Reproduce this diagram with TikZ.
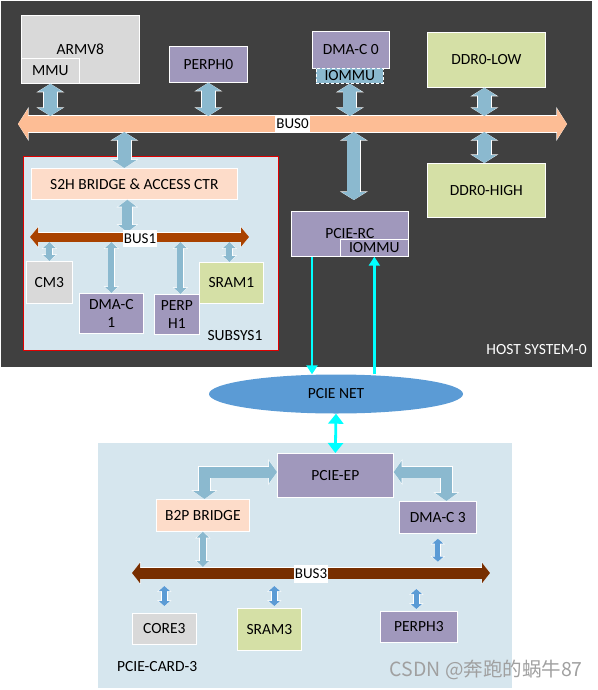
\documentclass[tikz,border=0pt]{standalone}
\usepackage{fontspec}
\setmainfont{Carlito}
\newfontfamily\cjkfont{Noto Sans CJK SC}
\usetikzlibrary{arrows.meta,shapes.geometric}
\definecolor{darkbg}{HTML}{404040}
\definecolor{lgray}{HTML}{D9D9D9}
\definecolor{purp}{HTML}{A098BC}
\definecolor{lgreen}{HTML}{D5E0A6}
\definecolor{peach}{HTML}{FDBD95}
\definecolor{lpeach}{HTML}{FDDCC9}
\definecolor{ablue}{HTML}{8BB9CF}
\definecolor{netblue}{HTML}{5B9BD5}
\definecolor{lblue}{HTML}{D6E6EE}
\definecolor{browna}{HTML}{A94200}
\definecolor{brownb}{HTML}{772E00}
\definecolor{wmgray}{HTML}{A0A0A0}
\definecolor{cyanc}{HTML}{00FFFF}
\definecolor{redc}{HTML}{E00000}
\tikzset{
  blk/.style args={#1/#2/#3/#4/#5/#6/#7}{line width=#1pt, draw=#4, line join=miter,
    arrows={Triangle[width=#2pt,length=#3pt]-Triangle[width=#2pt,length=#3pt]},
    preaction={draw=white, line width=#5pt, line join=miter,
      arrows={Triangle[width=#7pt,length=#6pt]-Triangle[width=#7pt,length=#6pt]}}},
  bigarr/.style={blk=13/24/8/ablue/14.4/8.7/27.6},
  midarr/.style={blk=10/18/7/ablue/11.4/7.7/21.3},
  smallarr/.style={blk=6/12/6/ablue/7.4/6.7/15},
  bentarr/.style={blk=11/22/8/ablue/12.4/8.7/25.4},
  bluearr/.style={blk=5/11/5/netblue/6.4/5.7/14.1},
  buszero/.style={blk=16/30/10/peach/17.4/10.7/33.6},
  busone/.style={blk=9/19/8/browna/10/8.5/21},
  busthree/.style={blk=11/20/8/brownb/12/8.5/22},
  cyanarr/.style={draw=cyanc, line width=2.4pt, -{Triangle[width=11pt,length=9pt]}},
  cyandbl/.style={draw=cyanc, line width=2.8pt, {Triangle[width=15pt,length=10pt]}-{Triangle[width=15pt,length=10pt]}},
  box/.style={draw=white, line width=0.7pt, inner sep=0pt, anchor=north west, text=black,
    font=\fontsize{15.5}{18.5}\selectfont},
  buslabel/.style={fill=white, inner sep=0pt, minimum width=35, minimum height=18, text=black,
    font=\fontsize{15}{17}\selectfont},
  plainlabel/.style={inner sep=0pt, font=\fontsize{15.5}{18}\selectfont}
}
\begin{document}
\begin{tikzpicture}[x=1pt,y=-1pt]
\useasboundingbox (0,0) rectangle (597,690);
% host system background
\fill[darkbg] (1,1) rectangle (592,367);
\node[plainlabel, text=white, anchor=east] (hostlbl) at (587,350) {HOST SYSTEM-0};
% top row
\node[box, fill=lgray, minimum width=118, minimum height=68] (armv8) at (21,15) {ARMV8};
\node[box, fill=lgray, minimum width=58, minimum height=25] (mmu) at (21,58) {MMU};
\node[box, fill=purp, minimum width=78, minimum height=36] (perph0) at (169,46) {PERPH0};
\node[box, fill=purp, minimum width=77, minimum height=37] (dmac0) at (312,31) {DMA-C 0};
\node[box, fill=ablue, dashed, dash pattern=on 3pt off 2pt, minimum width=67, minimum height=15] (iommu0) at (316,68) {IOMMU};
\node[box, fill=lgreen, minimum width=118, minimum height=55] (ddrlow) at (427,32) {DDR0-LOW};
\node[box, fill=lgreen, minimum width=118, minimum height=54] (ddrhigh) at (427,163) {DDR0-HIGH};
\node[box, fill=purp, minimum width=117, minimum height=45] (pcierc) at (291,211) {PCIE-RC};
\node[box, fill=purp, minimum width=68, minimum height=17] (iommurc) at (340,239) {IOMMU};
% subsystem 1
\node[fill=lblue, draw=redc, line width=1.5pt, minimum width=255, minimum height=194, anchor=north west, inner sep=0pt] (subsys) at (22.5,155.5) {};
\node[plainlabel, text=black] (subsyslbl) at (235,336) {SUBSYS1};
\node[box, fill=lpeach, minimum width=206, minimum height=31] (s2h) at (31,168) {S2H BRIDGE \& ACCESS CTR};
\node[box, fill=lgray, minimum width=46, minimum height=42] (cm3) at (26,261) {CM3};
\node[box, fill=purp, minimum width=64, minimum height=40, align=center] (dmac1) at (79,293) {DMA-C\\1};
\node[box, fill=purp, minimum width=45, minimum height=40, align=center] (perph1) at (154,294) {PERP\\H1};
\node[box, fill=lgreen, minimum width=64, minimum height=41] (sram1) at (199,262) {SRAM1};
% bus 0
\coordinate (bus0w) at (18,124);
\coordinate (bus0e) at (567,124);
\coordinate (bus0top) at (0,116);
\coordinate (bus0bot) at (0,132);
\draw[buszero] (bus0w) -- (bus0e);
\node[buslabel] (bus0lbl) at (292.5,124) {BUS0};
\draw[bigarr] (mmu.south) -- (mmu.south |- bus0top);
\draw[bigarr] (perph0.south) -- (perph0.south |- bus0top);
\draw[bigarr] (iommu0.south) -- (iommu0.south |- bus0top);
\draw[bigarr] ([xshift=-2pt]ddrlow.south) -- ([xshift=-2pt]ddrlow.south |- bus0top);
\draw[bigarr] ([xshift=-2pt]ddrhigh.north |- bus0bot) -- ([xshift=-2pt]ddrhigh.north);
\draw[bigarr] ([xshift=-10pt]s2h.north |- bus0bot) -- ([xshift=-10pt]s2h.north);
\draw[bigarr] ([xshift=4pt]pcierc.north |- bus0bot) -- ([xshift=4pt,yshift=11pt]pcierc.north);
% bus 1
\coordinate (bus1w) at (30,237);
\coordinate (bus1e) at (249,237);
\coordinate (bus1top) at (0,232);
\coordinate (bus1bot) at (0,242);
\draw[midarr] ([xshift=-7pt]s2h.south) -- ([xshift=-7pt]s2h.south |- bus1top);
\draw[busone] (bus1w) -- (bus1e);
\node[buslabel, minimum width=34, minimum height=17] (bus1lbl) at (140,238.5) {BUS1};
\draw[smallarr] (cm3.north |- bus1bot) -- (cm3.north);
\draw[smallarr] (dmac1.north |- bus1bot) -- (dmac1.north);
\draw[smallarr] ([xshift=3.5pt]perph1.north |- bus1bot) -- ([xshift=3.5pt]perph1.north);
\draw[smallarr] ([xshift=-2pt]sram1.north |- bus1bot) -- ([xshift=-2pt]sram1.north);
% PCIe network
\node[ellipse, fill=netblue, minimum width=254, minimum height=39, inner sep=0pt, text=black,
  font=\fontsize{15.5}{18}\selectfont] (net) at (336,394) {PCIE NET};
\draw[cyanarr] ([xshift=21pt]pcierc.south west) -- ([xshift=21pt]pcierc.south west |- net.north);
\draw[cyanarr] (iommurc.south |- net.north) -- (iommurc.south);
% card 3
\node[fill=lblue, minimum width=414, minimum height=245, anchor=north west, inner sep=0pt] (card) at (98,443) {};
\node[box, fill=purp, minimum width=116, minimum height=44] (pcieep) at (277,453) {PCIE-EP};
\node[box, fill=lpeach, minimum width=93, minimum height=32] (b2p) at (156,499) {B2P BRIDGE};
\node[box, fill=purp, minimum width=77, minimum height=32] (dmac3) at (399,501) {DMA-C 3};
\node[box, fill=lgray, minimum width=64, minimum height=31] (core3) at (132,613) {CORE3};
\node[box, fill=lgreen, minimum width=64, minimum height=42] (sram3) at (237,608) {SRAM3};
\node[box, fill=purp, minimum width=77, minimum height=31] (perph3) at (380,611) {PERPH3};
\node[plainlabel, text=black, anchor=west] (cardlbl) at (117,667) {PCIE-CARD-3};
\draw[cyandbl] (net.south) -- (pcieep.north);
\coordinate (bentrow) at (0,472);
\draw[bentarr] ([xshift=1.5pt]b2p.north) -- ([xshift=1.5pt]b2p.north |- bentrow) -- (pcieep.west |- bentrow);
\draw[bentarr] (pcieep.east |- bentrow) -- ([xshift=8.5pt]dmac3.north |- bentrow) -- ([xshift=8.5pt]dmac3.north);
% bus 3
\coordinate (bus3w) at (132,573);
\coordinate (bus3e) at (490,573);
\coordinate (bus3top) at (0,567);
\coordinate (bus3bot) at (0,580);
\draw[smallarr] (b2p.south) -- (b2p.south |- bus3top);
\draw[busthree] (bus3w) -- (bus3e);
\node[buslabel, minimum width=34, minimum height=18] (bus3lbl) at (311,574) {BUS3};
\draw[bluearr] ([yshift=-5pt]dmac3.south) -- ([yshift=-28pt]dmac3.south);
\draw[bluearr] ([yshift=7pt]core3.north) -- ([yshift=27pt]core3.north);
\draw[bluearr] ([xshift=5pt,yshift=2pt]sram3.north) -- ([xshift=5pt,yshift=22pt]sram3.north);
\draw[bluearr] ([xshift=-2.5pt,yshift=2pt]perph3.north) -- ([xshift=-2.5pt,yshift=22pt]perph3.north);
% watermark
\node[anchor=east, inner sep=0pt, text=wmgray, font=\cjkfont\fontsize{19.5}{22}\selectfont] (wm) at (583,670) {CSDN @奔跑的蜗牛87};
\end{tikzpicture}
\end{document}
